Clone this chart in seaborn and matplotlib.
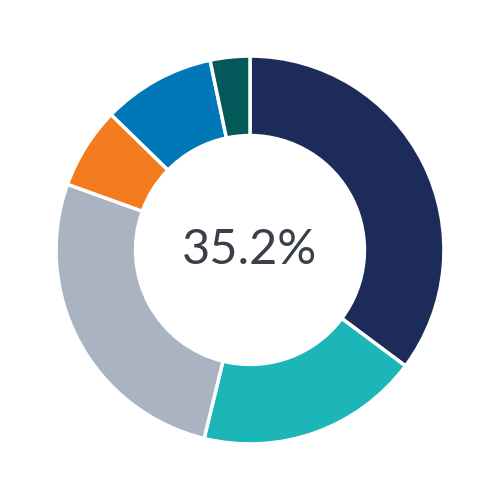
import matplotlib
matplotlib.use("Agg")
import matplotlib.pyplot as plt
import seaborn as sns

# segments clockwise from the top
labels = ["A", "B", "C", "D", "E", "F"]
shares = [35.2, 18.6, 26.7, 6.8, 9.4, 3.3]
colors = ["#1c2b5a", "#1cb5b8", "#a9b3c1", "#f47c20", "#0077b6", "#03585a"]
center_text = "35.2%"

sns.set_theme(style="white")
plt.rcParams["font.family"] = ["Lato", "DejaVu Sans"]

fig = plt.figure(figsize=(5, 5), dpi=100)
ax = fig.add_axes([0, 0, 1, 1])
ax.pie(shares, colors=colors, startangle=90, counterclock=False,
       radius=1.0,
       wedgeprops=dict(width=0.41, edgecolor="white", linewidth=2.5))
ax.text(0, 0, center_text, ha="center", va="center", fontsize=35,
        color="#3a3f4a")
ax.set_xlim(-1.289, 1.289)
ax.set_ylim(-1.289, 1.289)
ax.set_aspect("equal")
ax.axis("off")

fig.savefig("out.png", dpi=100, facecolor="white")
